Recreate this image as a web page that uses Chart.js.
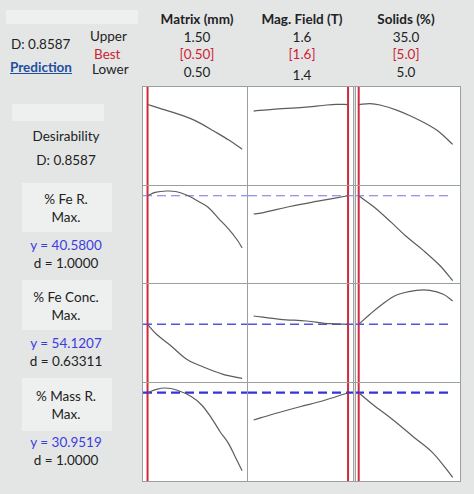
<!DOCTYPE html>
<html>
<head>
<meta charset="utf-8">
<script src="https://cdn.jsdelivr.net/npm/chart.js@4"></script>
<style>
  html, body { margin:0; padding:0; }
  body { width:474px; height:494px; background:#e4e6e6; position:relative; overflow:hidden;
         font-family:Lato, "Open Sans", sans-serif; color:#222; }
  .t { position:absolute; font-size:13.5px; white-space:nowrap; line-height:1; }
  .c { transform:translateX(-50%); }
  .b { font-weight:bold; }
  .red { color:#cc1f35; }
  .blue { color:#3c3ce0; }
  .box { position:absolute; background:#eeefef; }
  .panel { position:absolute; background:#fff; }
  .gl { position:absolute; background:#9c9fa0; }
</style>
</head>
<body>
<div id="root"></div>
<script>
/* ============================================================
   Response optimizer — 3 factors x (D + 3 responses)
   ============================================================ */

const FACTORS     = ['Matrix (mm)', 'Mag. Field (T)', 'Solids (%)'];
const UPPER       = ['1.50', '1.6', '35.0'];
const BEST        = ['[0.50]', '[1.6]', '[5.0]'];
const LOWER       = ['0.50', '1.4', '5.0'];
const BEST_X      = [0.50, 1.6, 5.0];
const X_MIN       = [0.452, 1.388, 3.82];
const X_MAX       = [1.562, 1.6105, 37.33];

const RESPONSES   = ['Desirability', '% Fe R.', '% Fe Conc.', '% Mass R.'];
const GOALS       = ['', 'Max.', 'Max.', 'Max.'];
const PRED_Y      = ['', 'y = 40.5800', 'y = 54.1207', 'y = 30.9519'];
const PRED_D      = ['D: 0.8587', 'd = 1.0000', 'd = 0.63311', 'd = 1.0000'];
const TARGET_Y    = [null, 40.58, 54.1207, 30.9519];
const Y_MIN       = [0.21, 18.76, 42.58, 8.88];
const Y_MAX       = [1.0, 43.0, 62.18, 33.38];

// composite desirability
const D_MATRIX_X   = [0.50, 0.63, 0.77, 0.95, 1.06, 1.20, 1.36, 1.50];
const D_MATRIX_Y   = [0.8587, 0.828, 0.796, 0.747, 0.707, 0.645, 0.572, 0.499];
const D_FIELD_X    = [1.40, 1.44, 1.505, 1.555, 1.575, 1.60];
const D_FIELD_Y    = [0.806, 0.820, 0.836, 0.855, 0.860, 0.8587];
const D_SOLIDS_X   = [5.0, 8.6, 11.8, 17.1, 21.4, 26.7, 30.9, 35.0];
const D_SOLIDS_Y   = [0.8587, 0.866, 0.855, 0.814, 0.768, 0.701, 0.634, 0.537];

// % Fe recovery
const FER_MATRIX_X = [0.50, 0.58, 0.70, 0.81, 0.93, 1.04, 1.14, 1.25, 1.36, 1.45, 1.50];
const FER_MATRIX_Y = [40.58, 41.43, 41.76, 41.58, 40.58, 39.18, 37.76, 35.0, 32.25, 29.58, 27.7];
const FER_FIELD_X  = [1.40, 1.421, 1.477, 1.533, 1.60];
const FER_FIELD_Y  = [36.08, 36.43, 37.93, 39.18, 40.58];
const FER_SOLIDS_X = [5.0, 9.7, 15.5, 20.3, 25.6, 30.9, 35.0];
const FER_SOLIDS_Y = [40.58, 37.93, 33.93, 30.43, 27.08, 23.33, 19.58];

// % Fe concentrate grade
const FEC_MATRIX_X = [0.50, 0.595, 0.737, 0.914, 1.09, 1.30, 1.50];
const FEC_MATRIX_Y = [54.12, 52.12, 49.98, 47.12, 45.58, 44.12, 43.32];
const FEC_FIELD_X  = [1.40, 1.456, 1.512, 1.561, 1.60];
const FEC_FIELD_Y  = [55.78, 55.12, 54.78, 54.24, 54.12];
const FEC_SOLIDS_X = [5.0, 8.6, 11.8, 17.1, 23.5, 27.7, 32.0, 35.0];
const FEC_SOLIDS_Y = [54.12, 56.12, 57.78, 59.98, 60.92, 60.92, 60.12, 58.78];

// % mass recovery
const MASS_MATRIX_X = [0.50, 0.595, 0.683, 0.807, 0.966, 1.072, 1.178, 1.267, 1.355, 1.426, 1.50];
const MASS_MATRIX_Y = [30.95, 31.8, 32.13, 31.63, 29.95, 27.88, 24.55, 21.2, 18.3, 14.95, 11.45];
const MASS_FIELD_X  = [1.40, 1.442, 1.498, 1.547, 1.60];
const MASS_FIELD_Y  = [24.13, 25.63, 27.45, 28.95, 30.95];
const MASS_SOLIDS_X = [5.0, 9.7, 16.0, 22.4, 28.8, 35.0];
const MASS_SOLIDS_Y = [30.95, 27.88, 24.13, 19.95, 15.8, 9.8];

const CURVES = [
  [[D_MATRIX_X, D_MATRIX_Y],       [D_FIELD_X, D_FIELD_Y],       [D_SOLIDS_X, D_SOLIDS_Y]],
  [[FER_MATRIX_X, FER_MATRIX_Y],   [FER_FIELD_X, FER_FIELD_Y],   [FER_SOLIDS_X, FER_SOLIDS_Y]],
  [[FEC_MATRIX_X, FEC_MATRIX_Y],   [FEC_FIELD_X, FEC_FIELD_Y],   [FEC_SOLIDS_X, FEC_SOLIDS_Y]],
  [[MASS_MATRIX_X, MASS_MATRIX_Y], [MASS_FIELD_X, MASS_FIELD_Y], [MASS_SOLIDS_X, MASS_SOLIDS_Y]]
];

// layout (px)
const COL_L = [143, 248, 355];
const COL_W = 105;
const ROW_T = [87, 186, 284, 383];
const ROW_H = 98;
const DASH_STYLE = [null, {c:'#7676e2', w:1.1}, {c:'#5252e4', w:1.5}, {c:'#3434dc', w:2.2}];

const root = document.getElementById('root');
function el(cls, css, txt) {
  const d = document.createElement('div');
  d.className = cls;
  Object.assign(d.style, css);
  if (txt != null) d.textContent = txt;
  root.appendChild(d);
  return d;
}

// background label boxes
el('box', { left:'12px', top:'104px', width:'92px', height:'17px' });
el('box', { left:'22px', top:'183px', width:'90px', height:'49px' });
el('box', { left:'22px', top:'280px', width:'90px', height:'50px' });
el('box', { left:'22px', top:'378px', width:'90px', height:'53px' });
el('box', { left:'6px',  top:'10px',  width:'132px', height:'14px' });

// header
const COL_CX = [197, 302, 406];
FACTORS.forEach((f, i) => {
  el('t c b', { left:COL_CX[i]+'px', top:'13px' }, f);
  el('t c', { left:COL_CX[i]+'px', top:'31px' }, UPPER[i]);
  el('t c red', { left:COL_CX[i]+'px', top:'48px' }, BEST[i]);
  el('t c', { left:COL_CX[i]+'px', top:(i === 1 ? 69 : 66)+'px' }, LOWER[i]);
});
el('t', { left:'90px', top:'30px' }, 'Upper');
el('t red', { left:'94px', top:'48px' }, 'Best');
el('t', { left:'92px', top:'63px' }, 'Lower');
el('t', { left:'11px', top:'38px' }, 'D: 0.8587');
el('t b', { left:'10px', top:'61px', color:'#1f4f9e', textDecoration:'underline' }, 'Prediction');

// left labels
const LBL_TOP = [130, 193, 291, 390];
RESPONSES.forEach((r, i) => {
  const t = LBL_TOP[i];
  el('t c', { left:'66px', top:t+'px' }, r);
  if (i === 0) {
    el('t c', { left:'66px', top:(t+24)+'px' }, PRED_D[i]);
  } else {
    el('t c', { left:'66px', top:(t+18)+'px' }, GOALS[i]);
    el('t c blue', { left:'66px', top:(t+46)+'px' }, PRED_Y[i]);
    el('t c', { left:'66px', top:(t+64)+'px' }, PRED_D[i]);
  }
});

// panels
for (let r = 0; r < 4; r++) {
  for (let c = 0; c < 3; c++) {
    const p = el('panel', { left:COL_L[c]+'px', top:ROW_T[r]+'px', width:COL_W+'px', height:ROW_H+'px' });
    const cv = document.createElement('canvas');
    cv.width = COL_W; cv.height = ROW_H;
    p.appendChild(cv);
    const [xs, ys] = CURVES[r][c];
    const datasets = [
      { data: xs.map((x, k) => ({ x, y: ys[k] })), borderColor:'#5c5c5c', borderWidth:1.2,
        pointRadius:0, tension:0.35, fill:false, order:1 },
      { data: [{ x:BEST_X[c], y:Y_MIN[r] }, { x:BEST_X[c], y:Y_MAX[r] }], borderColor:'#d2293b',
        borderWidth:2, pointRadius:0, fill:false, order:3 }
    ];
    if (TARGET_Y[r] != null) {
      const xEnd = c === 2 ? 35.0 : X_MAX[c];
      datasets.push({ data: [{ x:X_MIN[c], y:TARGET_Y[r] }, { x:xEnd, y:TARGET_Y[r] }],
        borderColor:DASH_STYLE[r].c, borderWidth:DASH_STYLE[r].w, borderDash:[9,5],
        pointRadius:0, fill:false, order:2 });
    }
    new Chart(cv, {
      type: 'line',
      data: { datasets },
      options: {
        responsive:false, animation:false, events:[],
        layout:{ padding:0 },
        plugins:{ legend:{ display:false }, tooltip:{ enabled:false } },
        scales:{
          x:{ type:'linear', display:false, min:X_MIN[c], max:X_MAX[c] },
          y:{ type:'linear', display:false, min:Y_MIN[r], max:Y_MAX[r] }
        }
      }
    });
  }
}

// grid frame
el('gl', { left:'143px', top:'86px', width:'317px', height:'1px' });
el('gl', { left:'143px', top:'481px', width:'317px', height:'1px' });
el('gl', { left:'142px', top:'86px', width:'1px', height:'396px' });
el('gl', { left:'460px', top:'86px', width:'1px', height:'396px' });
[247, 353, 355].forEach(x => el('gl', { left:x+'px', top:'86px', width:'1px', height:'396px' }));
[185, 283, 382].forEach(y => el('gl', { left:'143px', top:y+'px', width:'317px', height:'1px' }));
</script>
</body>
</html>
